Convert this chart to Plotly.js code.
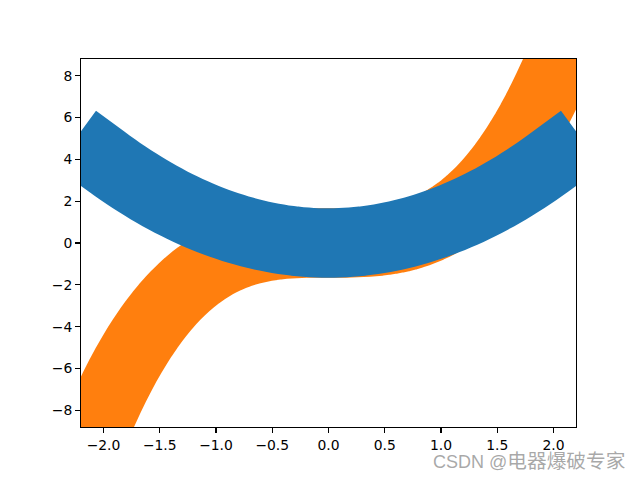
<!DOCTYPE html>
<html>
<head>
<meta charset="utf-8">
<script src="https://cdn.plot.ly/plotly-3.0.1.min.js"></script>
<style>
html,body{margin:0;padding:0;background:#fff;}
#chart{width:640px;height:480px;}
.scatterlayer .js-line{stroke-linecap:square !important;stroke-linejoin:round !important;}
</style>
</head>
<body>
<div id="chart"></div>
<script>
const xValues = [-2,-1.95,-1.9,-1.85,-1.8,-1.75,-1.7,-1.65,-1.6,-1.55,-1.5,-1.45,-1.4,-1.35,-1.3,-1.25,-1.2,-1.15,-1.1,-1.05,-1,-0.95,-0.9,-0.85,-0.8,-0.75,-0.7,-0.65,-0.6,-0.55,-0.5,-0.45,-0.4,-0.35,-0.3,-0.25,-0.2,-0.15,-0.1,-0.05,0,0.05,0.1,0.15,0.2,0.25,0.3,0.35,0.4,0.45,0.5,0.55,0.6,0.65,0.7,0.75,0.8,0.85,0.9,0.95,1,1.05,1.1,1.15,1.2,1.25,1.3,1.35,1.4,1.45,1.5,1.55,1.6,1.65,1.7,1.75,1.8,1.85,1.9,1.95,2];
const orangeValues = [-8,-7.415,-6.859,-6.332,-5.832,-5.359,-4.913,-4.492,-4.096,-3.724,-3.375,-3.049,-2.744,-2.46,-2.197,-1.953,-1.728,-1.521,-1.331,-1.158,-1,-0.857,-0.729,-0.614,-0.512,-0.422,-0.343,-0.275,-0.216,-0.166,-0.125,-0.091,-0.064,-0.043,-0.027,-0.016,-0.008,-0.003,-0.001,0,0,0,0.001,0.003,0.008,0.016,0.027,0.043,0.064,0.091,0.125,0.166,0.216,0.275,0.343,0.422,0.512,0.614,0.729,0.857,1,1.158,1.331,1.521,1.728,1.953,2.197,2.46,2.744,3.049,3.375,3.724,4.096,4.492,4.913,5.359,5.832,6.332,6.859,7.415,8];
const blueValues = [4,3.803,3.61,3.423,3.24,3.063,2.89,2.723,2.56,2.403,2.25,2.103,1.96,1.823,1.69,1.563,1.44,1.323,1.21,1.103,1,0.903,0.81,0.723,0.64,0.563,0.49,0.423,0.36,0.303,0.25,0.203,0.16,0.123,0.09,0.063,0.04,0.023,0.01,0.003,0,0.003,0.01,0.023,0.04,0.063,0.09,0.123,0.16,0.203,0.25,0.303,0.36,0.423,0.49,0.563,0.64,0.723,0.81,0.903,1,1.103,1.21,1.323,1.44,1.563,1.69,1.823,1.96,2.103,2.25,2.403,2.56,2.723,2.89,3.063,3.24,3.423,3.61,3.803,4];
const xTicks = [-2,-1.5,-1,-0.5,0,0.5,1,1.5,2];
const xTickLabels = ['−2.0','−1.5','−1.0','−0.5','0.0','0.5','1.0','1.5','2.0'];
const yTicks = [-8,-6,-4,-2,0,2,4,6,8];
const yTickLabels = ['−8','−6','−4','−2','0','2','4','6','8'];
const lineWidth = 69.4;
const font = {family:'"DejaVu Sans"', size:13.9, color:'#000'};
const axisBase = {
  showgrid:false, zeroline:false, showline:true, mirror:true,
  linecolor:'#000', linewidth:1, ticks:'outside', ticklen:4.9, tickwidth:1.1, tickcolor:'#000',
  tickfont:font, tickmode:'array'
};
Plotly.newPlot('chart', [
  {x:xValues, y:orangeValues, mode:'lines', line:{color:'#ff7f0e', width:lineWidth, shape:'linear', simplify:false}, hoverinfo:'skip'},
  {x:xValues, y:blueValues, mode:'lines', line:{color:'#1f77b4', width:lineWidth, shape:'linear', simplify:false}, hoverinfo:'skip'}
], {
  width:640, height:480, showlegend:false,
  paper_bgcolor:'#fff', plot_bgcolor:'#fff',
  margin:{l:81, r:64, t:59, b:53, pad:0},
  xaxis:Object.assign({}, axisBase, {range:[-2.2,2.2], tickvals:xTicks, ticktext:xTickLabels}),
  yaxis:Object.assign({}, axisBase, {range:[-8.8,8.8], tickvals:yTicks, ticktext:yTickLabels}),
  annotations:[{
    xref:'paper', yref:'paper', x:1, y:0, xanchor:'right', yanchor:'top', xshift:51, yshift:-21,
    text:'<span style="font-size:18px">CSDN @</span>电器爆破专家', showarrow:false,
    font:{family:'"Liberation Sans","Noto Sans CJK SC"', size:19.7, color:'rgba(140,140,140,0.75)'}
  }]
}, {displayModeBar:false, staticPlot:true});
</script>
</body>
</html>
